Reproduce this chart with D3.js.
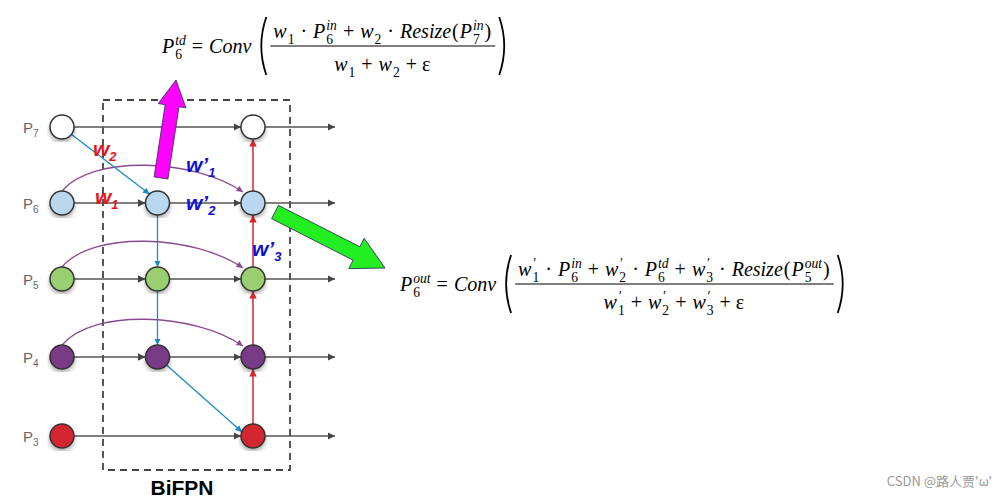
<!DOCTYPE html><html><head><meta charset="utf-8"><script src="https://cdn.jsdelivr.net/npm/d3@7"></script>
<style>body{margin:0;background:#fff}</style></head><body><svg id="c" width="1007" height="499"></svg><script>
const levels=["P7","P6","P5","P4","P3"];
const fills=["#ffffff","#b9d7ef","#99cf6f","#7a3a86","#d3272e"];
const hasMid=[false,true,true,true,false];
const columns=["in","mid","out"];
const weightLabels=[["w","2","#e8141b",93,156],["w","1","#e8141b",95,204],["w’","1","#1010d8",186,172],["w’","2","#1010d8",186,210],["w’","3","#1010d8",252,256]];
const svg=d3.select("#c");
const x=d3.scalePoint().domain(columns).range([62,253]);
const yy=[127,203,279,357,436];
const Y=l=>yy[levels.indexOf(l)];
const defs=svg.append("defs");
function mk(id,c){defs.append("marker").attr("id",id).attr("viewBox","0 0 10 10").attr("refX",10).attr("refY",5).attr("markerWidth",5).attr("markerHeight",5).attr("orient","auto").append("path").attr("d","M0,0L10,5L0,10z").attr("fill",c);}
mk("g","#444");mk("b","#1a8ac8");mk("r","#d3272e");mk("p","#8a4a90");
defs.append("filter").attr("id","sh").append("feDropShadow").attr("dx",0).attr("dy",3).attr("stdDeviation",2).attr("flood-opacity",0.3);
const R=12;
svg.append("rect").attr("x",103).attr("y",100).attr("width",187).attr("height",370).attr("fill","none").attr("stroke","#444").attr("stroke-width",1.8).attr("stroke-dasharray","7,5");
function line(x1,y1,x2,y2,c,m,w){svg.append("line").attr("x1",x1).attr("y1",y1).attr("x2",x2).attr("y2",y2).attr("stroke",c).attr("stroke-width",w||1.5).attr("marker-end",`url(#${m})`);}
levels.forEach((l,i)=>{const yv=Y(l);
 if(hasMid[i]){line(x("in")+R,yv,x("mid")-R,yv,"#555","g");line(x("mid")+R,yv,x("out")-R,yv,"#555","g");}
 else line(x("in")+R,yv,x("out")-R,yv,"#555","g");
 line(x("out")+R,yv,335,yv,"#555","g");});
[1,2,3].forEach(i=>{const yv=Y(levels[i]);svg.append("path").attr("d",`M${x("in")},${yv-R}C${x("in")+30},${yv-48} ${x("out")-60},${yv-45} ${x("out")-10},${yv-R+1}`).attr("fill","none").attr("stroke","#8a4a90").attr("stroke-width",1.3).attr("marker-end","url(#p)");});
line(x("in")+9,Y("P7")+7,x("mid")-8,Y("P6")-9,"#1a8ac8","b",1.3);
line(x("mid"),Y("P6")+R,x("mid"),Y("P5")-R,"#1a8ac8","b",1.3);
line(x("mid"),Y("P5")+R,x("mid"),Y("P4")-R,"#1a8ac8","b",1.3);
line(x("mid")+9,Y("P4")+8,x("out")-11,Y("P3")-4,"#1a8ac8","b",1.3);
for(let i=4;i>0;i--)line(x("out"),Y(levels[i])-R,x("out"),Y(levels[i-1])+R,"#d3272e","r",1.5);
levels.forEach((l,i)=>{const cols=hasMid[i]?columns:["in","out"];cols.forEach(c=>svg.append("circle").attr("cx",x(c)).attr("cy",Y(l)).attr("r",R).attr("fill",fills[i]).attr("stroke","#333").attr("stroke-width",1.5).attr("filter","url(#sh)"));
 const t=svg.append("text").attr("x",23).attr("y",Y(l)+6).attr("font-family","Liberation Sans").attr("font-size",15).attr("fill","#666");t.append("tspan").text("P");t.append("tspan").attr("font-size",10).attr("dy",4).text(l.slice(1));});
weightLabels.forEach(([b,s,c,xx,yv])=>{const t=svg.append("text").attr("x",xx).attr("y",yv).attr("font-family","Liberation Sans").attr("font-weight","bold").attr("font-style","italic").attr("font-size",21).attr("fill",c);t.append("tspan").text(b);t.append("tspan").attr("font-size",13).attr("dy",5).text(s);});
function bigArrow(x1,y1,x2,y2,w,hw,hl,c){const a=Math.atan2(y2-y1,x2-x1),L=Math.hypot(x2-x1,y2-y1);const g=svg.append("g").attr("transform",`translate(${x1},${y1}) rotate(${a*180/Math.PI})`);g.append("path").attr("d",`M0,${-w/2}L${L-hl},${-w/2}L${L-hl},${-hw/2}L${L},0L${L-hl},${hw/2}L${L-hl},${w/2}L0,${w/2}z`).attr("fill",c).attr("stroke","#335").attr("stroke-width",0.8);}
bigArrow(161,178,176,80,14,28,26,"#ff00ff");
bigArrow(275,212,385,268,15,34,32,"#22ee22");
svg.append("text").attr("x",182).attr("y",495).attr("text-anchor","middle").attr("font-family","Liberation Sans").attr("font-weight","bold").attr("font-size",21).text("BiFPN");
svg.append("text").attr("x",992).attr("y",486).attr("text-anchor","end").attr("font-family","Noto Sans CJK SC").attr("font-size",13).attr("fill","#999").text("CSDN @路人贾'ω'");
const S="\u00a0";
function mathRow(x0,yb,parts,fs,measure){let cx=x0;const els=[];parts.forEach(p=>{const txt=p.t.replace(/ /g,S);const t=svg.append("text").attr("x",cx).attr("y",yb).attr("font-family","Liberation Serif").attr("font-size",fs).attr("font-style",p.it===false?"normal":"italic").text(txt);els.push(t);cx+=t.node().getComputedTextLength();let sw=0;
 if(p.sup){const s=svg.append("text").attr("x",cx+1).attr("y",yb-fs*0.42).attr("font-family","Liberation Serif").attr("font-style","italic").attr("font-size",fs*0.68).text(p.sup);els.push(s);sw=s.node().getComputedTextLength()+1;}
 if(p.sub){const s=svg.append("text").attr("x",cx+1).attr("y",yb+fs*0.28).attr("font-family","Liberation Serif").attr("font-size",fs*0.68).text(p.sub);els.push(s);sw=Math.max(sw,s.node().getComputedTextLength()+1);}
 cx+=sw+1;});if(measure)els.forEach(e=>e.remove());return cx-x0;}
function paren(xp,yc,h,left){const d=left?1:-1;svg.append("path").attr("d",`M${xp+d*8},${yc-h/2}Q${xp-d*2},${yc} ${xp+d*8},${yc+h/2}`).attr("fill","none").attr("stroke","#000").attr("stroke-width",1.8);}
function formula(x0,yc,lhs,num,den,fs){const w=mathRow(x0,yc+7,lhs,fs);const px=x0+w+6;paren(px,yc,58,true);const fx=px+12;
 const g1=mathRow(0,0,num,fs,true),g2=mathRow(0,0,den,fs,true);const fw=Math.max(g1,g2)+6;
 svg.append("line").attr("x1",fx).attr("x2",fx+fw).attr("y1",yc).attr("y2",yc).attr("stroke","#000").attr("stroke-width",1);
 mathRow(fx+(fw-g1)/2,yc-8,num,fs);mathRow(fx+(fw-g2)/2,yc+25,den,fs);paren(fx+fw+12,yc,58,false);}
const FS=20;
formula(162,46,[{t:"P",sub:"6",sup:"td"},{t:" = ",it:false},{t:"Conv"}],
 [{t:"w",sub:"1"},{t:" · ",it:false},{t:"P",sub:"6",sup:"in"},{t:" + ",it:false},{t:"w",sub:"2"},{t:" · ",it:false},{t:"Resize"},{t:"(",it:false},{t:"P",sub:"7",sup:"in"},{t:")",it:false}],
 [{t:"w",sub:"1"},{t:" + ",it:false},{t:"w",sub:"2"},{t:" + ε",it:false}],FS);
formula(400,284,[{t:"P",sub:"6",sup:"out"},{t:" = ",it:false},{t:"Conv"}],
 [{t:"w",sub:"1",sup:"′"},{t:" · ",it:false},{t:"P",sub:"6",sup:"in"},{t:" + ",it:false},{t:"w",sub:"2",sup:"′"},{t:" · ",it:false},{t:"P",sub:"6",sup:"td"},{t:" + ",it:false},{t:"w",sub:"3",sup:"′"},{t:" · ",it:false},{t:"Resize"},{t:"(",it:false},{t:"P",sub:"5",sup:"out"},{t:")",it:false}],
 [{t:"w",sub:"1",sup:"′"},{t:" + ",it:false},{t:"w",sub:"2",sup:"′"},{t:" + ",it:false},{t:"w",sub:"3",sup:"′"},{t:" + ε",it:false}],FS);
</script></body></html>
